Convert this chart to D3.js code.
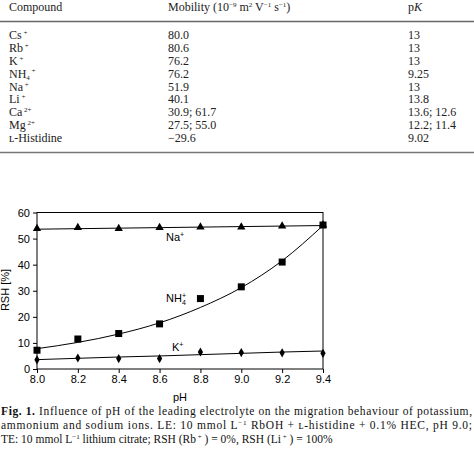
<!DOCTYPE html><html><head><meta charset="utf-8"><script src="https://cdn.jsdelivr.net/npm/d3@7"></script>
<style>body{margin:0;background:#fff}svg{display:block}</style></head><body>
<svg id="c" width="474" height="456"></svg>
<script>
const compounds=[["Cs","+"],["Rb","+"],["K","+"],["NH","+","4"],["Na","+"],["Li","+"],["Ca","2+"],["Mg","2+"],["ʟ-Histidine",""]];
const mobility=["80.0","80.6","76.2","76.2","51.9","40.1","30.9; 61.7","27.5; 55.0","\u221229.6"];
const pK=["13","13","13","9.25","13","13.8","13.6; 12.6","12.2; 11.4","9.02"];
const pH=[8.0,8.2,8.4,8.6,8.8,9.0,9.2,9.4];
const na=[53.8,54.2,53.8,54.2,54.4,54.4,54.8,55.2];
const nh4=[7.2,11.5,13.6,17.3,27,31.5,41,55.2];
const k=[3.5,4.2,4.0,4.0,6.5,6.3,6.2,6.0];
const naFit=[53.6,53.8,54.0,54.2,54.4,54.6,54.8,55.0];
const nh4Fit=[7.8,10.2,13.4,17.7,23.6,31.2,41.5,55.0];
const kFit=[3.6,4.1,4.6,5.0,5.5,6.0,6.5,6.9];
const yTicks=[0,10,20,30,40,50,60];
const svg=d3.select("#c");
const serif="'Liberation Serif','DejaVu Serif',serif", sans="'Liberation Sans',Arial,sans-serif";
const tg=svg.append("g").style("font-family",serif).style("font-size","12px").attr("fill","#222");
const hdr=tg.append("text").attr("y",11);
hdr.append("tspan").attr("x",9).text("Compound");
const m=tg.append("text").attr("x",168).attr("y",11);
m.append("tspan").text("Mobility (10");m.append("tspan").attr("dy",-4).attr("font-size","7px").text("\u22129");
m.append("tspan").attr("dy",4).text(" m");m.append("tspan").attr("dy",-4).attr("font-size","7px").text("2");
m.append("tspan").attr("dy",4).text(" V");m.append("tspan").attr("dy",-4).attr("font-size","7px").text("\u22121");
m.append("tspan").attr("dy",4).text(" s");m.append("tspan").attr("dy",-4).attr("font-size","7px").text("\u22121");
m.append("tspan").attr("dy",4).text(")");
const pk=tg.append("text").attr("x",408).attr("y",11);pk.append("tspan").text("p");pk.append("tspan").attr("font-style","italic").text("K");
svg.append("line").attr("x1",0).attr("x2",474).attr("y1",21.5).attr("y2",21.5).attr("stroke","#666").attr("stroke-width",1.5);
svg.append("line").attr("x1",0).attr("x2",474).attr("y1",152.5).attr("y2",152.5).attr("stroke","#777").attr("stroke-width",1.5);
const rowY=d3.scaleLinear().domain([0,8]).range([39,142]);
compounds.forEach((c,i)=>{
  const t=tg.append("text").attr("x",9).attr("y",rowY(i));
  t.append("tspan").text(c[0]);
  if(c[2]){t.append("tspan").attr("dy",2).attr("font-size","7px").text(c[2]);t.append("tspan").attr("dy",-7).attr("font-size","7px").text(" "+c[1]);}
  else if(c[1]) t.append("tspan").attr("dy",-4).attr("font-size","7px").text(" "+c[1]);
  tg.append("text").attr("x",168).attr("y",rowY(i)).text(mobility[i]);
  tg.append("text").attr("x",408).attr("y",rowY(i)).text(pK[i]);
});
const x=d3.scaleLinear().domain([8.0,9.4]).range([37,323]);
const y=d3.scaleLinear().domain([0,60]).range([369,212.5]);
const g=svg.append("g").style("font-family",sans).style("font-size","11px");
g.append("rect").attr("x",37).attr("y",212.5).attr("width",286).attr("height",156.5).attr("fill","none").attr("stroke","#000");
const ya=g.append("g").attr("transform","translate(37,0)").call(d3.axisLeft(y).tickValues(yTicks).tickSize(4).tickFormat(d3.format("d")));
const xa=g.append("g").attr("transform","translate(0,369)").call(d3.axisBottom(x).tickValues(pH).tickSize(4).tickFormat(d3.format(".1f")));
[ya,xa].forEach(a=>{a.select(".domain").remove();a.selectAll("text").style("font-family",sans).style("font-size","11px").attr("fill","#000");});
xa.selectAll("text").attr("y",6);
g.append("text").attr("x",180).attr("y",401).attr("text-anchor","middle").text("pH");
g.append("text").attr("transform","translate(9,290) rotate(-90)").attr("text-anchor","middle").text("RSH [%]");
const line=d3.line().x((d,i)=>x(pH[i])).y(d=>y(d)).curve(d3.curveMonotoneX);
[naFit,nh4Fit,kFit].forEach(s=>g.append("path").attr("d",line(s)).attr("fill","none").attr("stroke","#000").attr("stroke-width",1));
g.selectAll(".na").data(na).join("path").attr("transform",(d,i)=>`translate(${x(pH[i])},${y(d)})`).attr("d",d3.symbol(d3.symbolTriangle,30)).attr("fill","#000");
g.selectAll(".nh").data(nh4).join("rect").attr("x",(d,i)=>x(pH[i])-3.5).attr("y",d=>y(d)-3.5).attr("width",7).attr("height",7).attr("fill","#000");
g.selectAll(".k").data(k).join("path").attr("transform",(d,i)=>`translate(${x(pH[i])},${y(d)})`).attr("d",d3.symbol(d3.symbolDiamond,24)).attr("fill","#000");
const lab=(tx,ty,b,sup,sub)=>{const t=g.append("text").attr("x",tx).attr("y",ty);t.append("tspan").text(b);
 if(sub){t.append("tspan").attr("font-size","7px").attr("dy",-4).text(sup);t.append("tspan").attr("font-size","7px").attr("dx",-4).attr("dy",7).text(sub);}
 else t.append("tspan").attr("font-size","7px").attr("dy",-4).text(sup);};
lab(166,241,"Na","+");lab(166,302,"NH","+","4");lab(172,351,"K","+");
const cg=svg.append("g").style("font-family",serif).style("font-size","11.5px").attr("fill","#111");
const c1=cg.append("text").attr("x",1).attr("y",415).attr("textLength",471).attr("lengthAdjust","spacing");
c1.append("tspan").attr("font-weight","bold").text("Fig. 1.");c1.append("tspan").text(" Influence of pH of the leading electrolyte on the migration behaviour of potassium,");
const c2=cg.append("text").attr("x",1).attr("y",429).attr("textLength",471).attr("lengthAdjust","spacing");
c2.append("tspan").text("ammonium and sodium ions. LE: 10 mmol L");c2.append("tspan").attr("dy",-4).attr("font-size","7px").text("\u22121");
c2.append("tspan").attr("dy",4).text(" RbOH + ʟ-histidine + 0.1% HEC, pH 9.0;");
const c3=cg.append("text").attr("x",1).attr("y",443);
c3.append("tspan").text("TE: 10 mmol L");c3.append("tspan").attr("dy",-4).attr("font-size","7px").text("\u22121");
c3.append("tspan").attr("dy",4).text(" lithium citrate; RSH (Rb");c3.append("tspan").attr("dy",-4).attr("font-size","7px").text(" +");
c3.append("tspan").attr("dy",4).text(" ) = 0%, RSH (Li");c3.append("tspan").attr("dy",-4).attr("font-size","7px").text(" +");
c3.append("tspan").attr("dy",4).text(" ) = 100%");
</script></body></html>
